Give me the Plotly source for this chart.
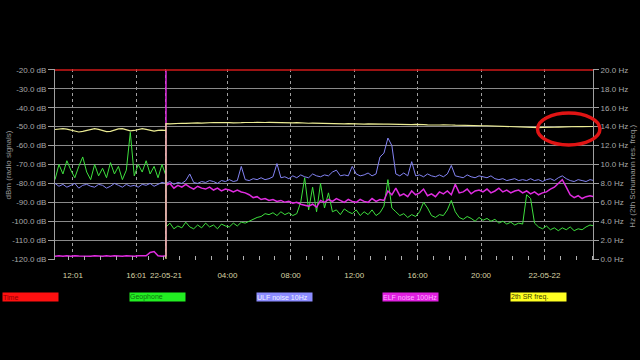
import numpy as np
import plotly.graph_objects as go

# ---------------- data (hours relative to 22-05-21 00:00; left block = earlier recording) ----------------
STEP = 0.25
PRE_START = -6.875
POST_START = 0.125

TICK_POS = [-5.75, -1.75, 0.125, 4, 8, 12, 16, 20, 24]
TICK_TEXT = ["12:01", "16:01", "22-05-21", "04:00", "08:00", "12:00", "16:00", "20:00", "22-05-22"]

DB_TICKS = [-120, -110, -100, -90, -80, -70, -60, -50, -40, -30, -20]
HZ_TICKS = [0, 2, 4, 6, 8, 10, 12, 14, 16, 18, 20]

TIME_LEVEL = [-20, -20]
TIME_SPAN = [-6.875, 27.1]

SR_PRE = [-51.5, -51.2, -51.0, -51.3, -51.8, -52.3, -52.8, -52.5, -52.0, -51.3,
          -51.0, -51.4, -52.0, -52.6, -52.5, -51.8, -51.2, -51.0, -51.5, -52.2,
          -52.0, -51.3, -51.0, -51.4, -52.0, -52.3, -52.0, -51.8, -52.0]
SR_BREAK = -120
SR_POST = [-48.4, -48.5, -48.3, -48.4, -48.2, -48.3, -48.1, -48.2, -48.0, -48.1,
           -47.9, -48.0, -47.8, -47.9, -47.8, -48.0, -47.9, -48.0, -47.8, -47.9, -47.8,
           -47.9, -47.8, -47.7, -47.9, -47.8, -47.7, -47.8, -47.9, -47.7, -47.8,
           -47.9, -48.0, -47.9, -48.1, -48.0, -48.2, -48.1, -48.2, -48.3, -48.2,
           -48.3, -48.4, -48.3, -48.4, -48.5, -48.4, -48.5, -48.4, -48.5, -48.6,
           -48.5, -48.6, -48.5, -48.6, -48.7, -48.6, -48.7, -48.8, -48.7, -48.8,
           -48.8, -48.9, -48.8, -49.0, -48.9, -49.0, -49.1, -49.0, -49.1, -49.0,
           -49.2, -49.1, -49.2, -49.3, -49.2, -49.3, -49.4, -49.3, -49.4, -49.5,
           -49.5, -49.6, -49.5, -49.7, -49.8, -49.9, -50.0, -50.1, -50.2, -50.3,
           -50.4, -50.3, -50.4, -50.5, -50.4, -50.5, -50.4, -50.3, -50.2, -50.1,
           -50.0, -50.1, -50.0, -49.9, -50.0, -49.9, -50.0, -49.9]

GEO_PRE = [-78, -70, -75, -68, -73, -77, -71, -66, -74, -78,
           -70, -76, -72, -77, -69, -75, -71, -78, -73, -53,
           -76, -70, -74, -68, -75, -71, -77, -70, -76]
GEO_POST = [-103, -101, -104, -102.5, -103.5, -100.5, -103, -104, -102, -103.5,
            -101, -103, -102, -104, -101.5, -102.5, -103, -101, -102.5, -100.5,
            -101, -100, -99, -98, -97.5, -96, -96.5, -95.5, -97, -95,
            -96.5, -95.5, -97, -96, -90, -77, -94, -82, -95, -80,
            -93, -85, -95, -94, -96.5, -93.5, -95, -96, -94, -97,
            -95, -96.5, -94, -97, -95.5, -92, -78, -93, -95, -97,
            -96, -98, -96.5, -97.5, -95, -90, -93, -97, -98, -96.5,
            -97, -94, -89, -95, -98, -99, -97.5, -98.5, -100, -98,
            -99.5, -98.5, -100, -99, -101, -100, -101.5, -100.5, -102, -101,
            -101.5, -86, -88, -101, -103, -104, -102.5, -104.5, -103.5, -105,
            -103.5, -104.5, -103, -105, -104, -104.5, -103, -102, -102.5]

ULF_PRE = [-80, -81.5, -80.5, -82, -81, -80, -82.5, -81, -80.5, -81.5,
           -82, -80.5, -81, -82.5, -81.5, -80, -81, -82, -80.5, -81.5,
           -81, -82, -80.5, -81, -80, -81.5, -80.5, -79.5, -80]
ULF_POST = [-80, -79, -80.5, -79.5, -80, -78.5, -75, -79.5, -80, -79,
            -79.5, -78.5, -79, -80, -78.5, -79, -78, -79, -78.5, -71,
            -78, -78.5, -77.5, -78, -77, -78, -77.5, -76.5, -69.5, -77,
            -76.5, -77.5, -76, -77, -75.5, -76.5, -77, -75, -76, -76.5,
            -75.5, -76, -74, -73, -76, -75.5, -76, -71, -75, -76,
            -75.5, -74.5, -76, -75, -66, -64, -56, -60, -75, -76,
            -74.5, -76, -68.5, -76, -75.5, -76.5, -75, -76, -76.5, -75.5,
            -76.5, -75, -70.5, -76, -76.5, -77, -75.5, -76.5, -77, -76,
            -76.5, -77, -76, -77.5, -78, -77.5, -78.5, -78, -77.5, -78.5,
            -78, -78.5, -77.5, -78.5, -78, -79, -78, -77.5, -78.5, -77,
            -76, -77.5, -78.5, -79, -78, -78.5, -79, -78, -78.5]

ELF_PRE = [-118.5, -118.2, -118.5, -118.3, -118.5, -118.2, -118.4, -118.5, -118.3, -118.5,
           -118.2, -118.4, -118.5, -118.3, -118.5, -118.2, -118.4, -118.5, -118.3, -118.4,
           -118.5, -118.2, -118.4, -118.3, -116.5, -116.0, -118.3, -118.5, -118.3]
ELF_BREAK = -20
ELF_POST = [-81, -80, -82.5, -81, -82, -80.5, -82, -83, -81.5, -82.5,
            -83, -82, -83.5, -82.5, -84, -83, -83.5, -84.5, -83.5, -84.5,
            -85, -86, -87.5, -87, -88.5, -88, -89, -88.5, -89.5, -89,
            -90, -89.5, -90.5, -90, -91, -91.5, -92, -91, -92.5, -89,
            -90, -88.5, -89.5, -88, -89, -90, -88.5, -89.5, -90, -88.5,
            -89.5, -90, -88, -89.5, -88.5, -89, -84, -86, -82.5, -86.5,
            -85.5, -87, -84, -86, -85, -83, -86.5, -85.5, -87, -84.5,
            -85.5, -84, -86, -80.5, -85, -84.5, -83, -85.5, -84, -83.5,
            -84.5, -83, -85, -84, -82.5, -84.5, -83.5, -85, -84, -83.5,
            -85, -84, -85.5, -84.5, -86, -85, -84.5, -83, -82, -80,
            -78, -82, -86, -87.5, -86.5, -88, -87, -86.5, -87]

SERIES_NAMES = ["Time", "Geophone", "ULF noise 10Hz", "ELF noise 100Hz", "2th SR freq."]
SERIES_COLORS = ["#d01818", "#3ee03e", "#8484f4", "#e02ce0", "#ecec94"]
LEGEND_FILL = ["#ff1010", "#22ee22", "#8c8cff", "#e020e0", "#ffff22"]
LEGEND_TEXT = ["#900000", "#107010", "#f0f0ff", "#ffb0ff", "#404000"]

# ---------------- geometry ----------------
W, H = 640, 360
L, R, T, B = 53, 44, 69, 100
PW, PH = W - L - R, H - T - B


def paper_x(px):
    return (px - L) / PW


def paper_y(py):
    return 1 - (py - T) / PH


def xs(start, n):
    return list(start + STEP * np.arange(n))


def series(pre, post, brk=None):
    x = xs(PRE_START, len(pre))
    y = list(pre)
    if brk is not None:
        x.append(POST_START)
        y.append(brk)
    x += xs(POST_START, len(post))
    y += list(post)
    return x, y


fig = go.Figure()

gx, gy = series(GEO_PRE, GEO_POST)
ux, uy = series(ULF_PRE, ULF_POST)
ex, ey = series(ELF_PRE, ELF_POST, ELF_BREAK)
sx, sy = series(SR_PRE, SR_POST, SR_BREAK)

widths = [1, 1, 1.5, 1.2]
for (x, y), col, w in zip([(gx, gy), (ux, uy), (ex, ey), (sx, sy)], SERIES_COLORS[1:], widths):
    fig.add_trace(go.Scatter(x=x, y=y, mode="lines", line=dict(color=col, width=w),
                             hoverinfo="skip", showlegend=False))

fig.add_trace(go.Scatter(x=TIME_SPAN, y=TIME_LEVEL, mode="lines",
                         line=dict(color=SERIES_COLORS[0], width=1.5),
                         hoverinfo="skip", showlegend=False))

# invisible trace for the right axis
fig.add_trace(go.Scatter(x=[TIME_SPAN[0]], y=[HZ_TICKS[0]], yaxis="y2", mode="markers",
                         marker=dict(opacity=0), hoverinfo="skip", showlegend=False))

FONT = "Liberation Sans, Arial, sans-serif"
AX_COL = "#a8a8a8"

fig.update_layout(
    width=W, height=H,
    margin=dict(l=L, r=R, t=T, b=B),
    paper_bgcolor="black", plot_bgcolor="black",
    showlegend=False,
    font=dict(family=FONT, size=8, color=AX_COL),
    xaxis=dict(range=[PRE_START, PRE_START + PW / 16.0],
               tickmode="array", tickvals=TICK_POS, ticktext=TICK_TEXT,
               tickfont=dict(color="#d8d4a4", size=8), tickangle=0,
               showgrid=True, gridcolor="#a0a0a0", griddash="dot", gridwidth=1,
               zeroline=False, showline=False, ticks="",
               ticklabelstandoff=9,
               minor=dict(tickmode="linear", tick0=0, dtick=1, ticks="inside",
                          ticklen=4, tickcolor="#b0b0b0", showgrid=False)),
    yaxis=dict(range=[-120.5, -19.5], tickmode="array", tickvals=DB_TICKS,
               ticktext=[f"{v:.1f} dB" for v in DB_TICKS],
               tickfont=dict(size=8, color=AX_COL),
               showgrid=True, gridcolor="#8a8a8a", gridwidth=1, zeroline=False,
               showline=True, linecolor="#a0a0a0", linewidth=1,
               ticks="outside", ticklen=6, tickcolor="#a0a0a0"),
    yaxis2=dict(range=[-0.1, 20.1], overlaying="y", side="right",
                tickmode="array", tickvals=HZ_TICKS,
                ticktext=[f"{v:.1f} Hz" for v in HZ_TICKS],
                tickfont=dict(size=8, color=AX_COL),
                showgrid=False, zeroline=False,
                showline=True, linecolor="#a0a0a0", linewidth=1,
                ticks="outside", ticklen=5, tickcolor="#a0a0a0"),
)

# axis titles
fig.add_annotation(text="dBm (radio signals)", xref="paper", yref="paper",
                   x=paper_x(6), y=paper_y(165), xanchor="center", yanchor="middle",
                   textangle=-90, showarrow=False,
                   font=dict(size=8, color="#9a9a9a"))
fig.add_annotation(text="Hz (2th Schumann res. freq.)", xref="paper", yref="paper",
                   x=paper_x(635), y=paper_y(176), xanchor="center", yanchor="middle",
                   textangle=-90, showarrow=False,
                   font=dict(size=8, color="#9a9a9a"))

# legend boxes
LEG_X = [0, 128, 256, 383, 512]
for name, fill, tcol, lx in zip(SERIES_NAMES, LEGEND_FILL, LEGEND_TEXT, LEG_X):
    fig.add_annotation(text=name, xref="paper", yref="paper",
                       x=paper_x(lx), y=paper_y(292), xanchor="left", yanchor="top",
                       width=55, height=8, align="left", valign="middle",
                       bgcolor=fill, borderpad=0, showarrow=False,
                       font=dict(size=7, color=tcol))

# red highlight ellipse
fig.add_shape(type="circle", xref="paper", yref="paper",
              x0=paper_x(540), x1=paper_x(603), y0=paper_y(113), y1=paper_y(145),
              line=dict(color="#e01414", width=3.5))

fig.write_html("out.html", config={"displayModeBar": False})
